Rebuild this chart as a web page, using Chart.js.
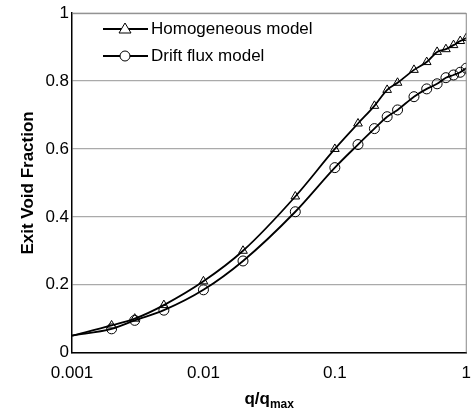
<!DOCTYPE html><html><head><script src="https://cdn.jsdelivr.net/npm/chart.js@4"></script>
<style>body{margin:0;background:#fff}#w{width:474px;height:413px}</style></head><body><div id="w"><canvas id="c"></canvas></div><script>
const xVals=[0.001,0.002,0.003,0.005,0.01,0.02,0.05,0.1,0.15,0.2,0.25,0.3,0.4,0.5,0.6,0.7,0.8,0.9,1.0];
const homog=[0.05,0.08,0.10,0.14,0.21,0.30,0.46,0.60,0.675,0.727,0.774,0.795,0.833,0.856,0.886,0.894,0.906,0.918,0.927];
const drift=[0.05,0.07,0.095,0.125,0.185,0.27,0.415,0.545,0.613,0.66,0.695,0.715,0.754,0.777,0.792,0.81,0.818,0.826,0.838];
const xTicks=[0.001,0.01,0.1,1];
const F='"Liberation Sans",Arial,sans-serif';
const radii=xVals.map((x,i)=>i===0?0:5);
function ds(label,d,style){return{label,data:xVals.map((x,i)=>({x,y:d[i]})),borderColor:'#000',borderWidth:1.8,pointStyle:style,pointRadius:radii,pointBackgroundColor:'rgba(0,0,0,0)',pointBorderColor:'#000',pointBorderWidth:1,cubicInterpolationMode:'monotone',fill:false};}
const legendPlugin={id:'lg',afterDraw(ch){const c=ch.ctx;const a=ch.chartArea;c.save();
c.strokeStyle='#888';c.lineWidth=1;c.beginPath();c.moveTo(a.left,a.top);c.lineTo(a.right,a.top);c.lineTo(a.right,a.bottom);c.stroke();
c.font='17px '+F;c.fillStyle='#000';c.strokeStyle='#000';
[['Homogeneous model',29,'tri'],['Drift flux model',56,'cir']].forEach(([t,y,s])=>{c.lineWidth=1.8;c.beginPath();c.moveTo(103,y);c.lineTo(148,y);c.stroke();c.lineWidth=1;c.beginPath();
if(s==='tri'){c.moveTo(125,y-6);c.lineTo(131,y+4);c.lineTo(119,y+4);c.closePath();}else{c.arc(125,y,5,0,Math.PI*2);}c.fillStyle='#fff';c.fill();c.stroke();c.fillStyle='#000';c.textBaseline='middle';c.fillText(t,151,y);});
c.font='bold 17px '+F;c.textAlign='left';c.textBaseline='alphabetic';const cx=(a.left+a.right)/2;const w1=c.measureText('q/q').width;c.font='bold 12px '+F;const w2=c.measureText('max').width;let x0=cx-(w1+w2)/2;c.font='bold 17px '+F;c.fillText('q/q',x0,404);c.font='bold 12px '+F;c.fillText('max',x0+w1,408);
c.restore();}};
new Chart(document.getElementById('c'),{type:'line',data:{datasets:[ds('Homogeneous model',homog,'triangle'),ds('Drift flux model',drift,'circle')]},
options:{responsive:true,maintainAspectRatio:false,animation:false,layout:{padding:{top:10,right:4,bottom:26,left:14}},
plugins:{legend:{display:false},tooltip:{enabled:false}},
scales:{x:{type:'logarithmic',min:0.001,max:1,afterBuildTicks(s){s.ticks=xTicks.map(v=>({value:v}));},
ticks:{color:'#000',font:{size:17,family:F},autoSkip:false,maxRotation:0,callback:v=>String(v)},grid:{display:false},border:{color:'#000',width:1.5}},
y:{min:0,max:1,ticks:{stepSize:0.2,color:'#000',font:{size:17,family:F},callback:v=>Number(v.toFixed(1))},grid:{color:'#aaa',lineWidth:1.2,drawTicks:false},border:{color:'#000',width:1.5},
title:{display:true,text:'Exit Void Fraction',color:'#000',font:{size:17,weight:'bold',family:F}}}}},plugins:[legendPlugin]});
</script></body></html>
